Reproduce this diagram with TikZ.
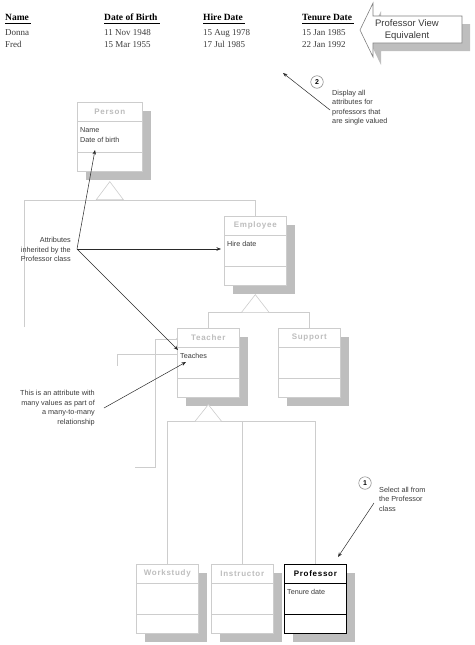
\documentclass[tikz,border=0pt]{standalone}
\usepackage{fontspec}
\setmainfont{Liberation Sans}
\newfontfamily\tablefont{Liberation Serif}
\newfontfamily\classfont[LetterSpace=9]{Liberation Sans}
\usepackage{tikz}
\usetikzlibrary{arrows.meta, shadows, calc, positioning}
\definecolor{lightline}{HTML}{CDCDCD}
\definecolor{lighttext}{HTML}{BDBDBD}
\definecolor{shadowgray}{HTML}{BEBEBE}
\definecolor{darktext}{HTML}{3A3A3A}
\definecolor{notecolor}{HTML}{2A2A2A}
\tikzstyle{classbox} = [draw=lightline, fill=white, line width=0.6pt, anchor=north west, minimum width=62pt, minimum height=69pt, inner sep=0pt, drop shadow={shadow xshift=9pt, shadow yshift=-9pt, fill=shadowgray, opacity=1}]
\tikzstyle{classname} = [anchor=north, minimum height=19pt, inner sep=0pt, text=lighttext, font=\classfont\bfseries\fontsize{8}{9}\selectfont]
\tikzstyle{classattr} = [anchor=north west, align=left, inner xsep=3pt, inner ysep=5.5pt, text=darktext, font=\fontsize{7.2}{10.5}\selectfont]
\tikzstyle{classline} = [draw=lightline, line width=0.6pt]
\tikzstyle{genline} = [draw=lightline, line width=0.6pt]
\tikzstyle{note} = [inner sep=0pt, text=darktext, font=\fontsize{7.3}{9.5}\selectfont]
\tikzstyle{pointer} = [draw=notecolor, line width=0.5pt, -{Stealth[length=4.5pt, width=3.5pt]}]
\tikzstyle{stepmark} = [circle, draw=gray, line width=0.5pt, minimum size=12.5pt, inner sep=0pt, font=\bfseries\fontsize{7}{8}\selectfont]
\tikzstyle{headcell} = [anchor=base west, inner sep=0pt, font=\tablefont\bfseries\fontsize{9.5}{11}\selectfont]
\tikzstyle{rowcell} = [anchor=base west, inner sep=0pt, text=darktext, font=\tablefont\fontsize{9}{11}\selectfont]

\begin{document}
\begin{tikzpicture}[x=1pt, y=-1pt]
	\useasboundingbox (0,0) rectangle (474,645);

	% table of professors
	\node (NameHead) [headcell] at (5, 20) {Name};
	\node (BirthHead) [headcell] at (104, 20) {Date of Birth};
	\node (HireHead) [headcell] at (203, 20) {Hire Date};
	\node (TenureHead) [headcell] at (302, 20) {Tenure Date};
	\foreach \h in {NameHead, BirthHead, HireHead, TenureHead}
		\draw [line width=0.6pt] ([yshift=-2.8pt]\h.base west) -- ([yshift=-2.8pt, xshift=2pt]\h.base east);

	\node (Donna) [rowcell] at (5, 35) {Donna};
	\node (DonnaBirth) [rowcell] at (104, 35) {11 Nov 1948};
	\node (DonnaHire) [rowcell] at (203, 35) {15 Aug 1978};
	\node (DonnaTenure) [rowcell] at (302, 35) {15 Jan 1985};
	\node (Fred) [rowcell] at (5, 47) {Fred};
	\node (FredBirth) [rowcell] at (104, 47) {15 Mar 1955};
	\node (FredHire) [rowcell] at (203, 47) {17 Jul 1985};
	\node (FredTenure) [rowcell] at (302, 47) {22 Jan 1992};

	% block arrow
	\fill [shadowgray, shift={(8,8)}] (360,30) -- (373,3) -- (373,16) -- (462,16) -- (462,43) -- (373,43) -- (373,57) -- cycle;
	\draw [draw=gray, fill=white, line width=0.6pt] (360,30) -- (373,3) -- (373,16) -- (462,16) -- (462,43) -- (373,43) -- (373,57) -- cycle;
	\node (ViewLabel) [align=center, text=darktext, font=\fontsize{9.5}{12}\selectfont] at (407, 30) {Professor View\\Equivalent};

	% classes
	\node (Person) [classbox, minimum width=65pt] at (77, 102) {};
	\node (PersonName) [classname] at (Person.north) {Person};
	\node (PersonAttr) [classattr] at (PersonName.south -| Person.west) {Name\\Date of birth};
	\draw [classline] (PersonName.south -| Person.west) -- (PersonName.south -| Person.east);
	\draw [classline] ([yshift=19pt]Person.south west) -- ([yshift=19pt]Person.south east);

	\node (Employee) [classbox] at (224, 216) {};
	\node (EmployeeName) [classname] at (Employee.north) {Employee};
	\node (EmployeeAttr) [classattr] at (EmployeeName.south -| Employee.west) {Hire date};
	\draw [classline] (EmployeeName.south -| Employee.west) -- (EmployeeName.south -| Employee.east);
	\draw [classline] ([yshift=19pt]Employee.south west) -- ([yshift=19pt]Employee.south east);

	\node (Teacher) [classbox] at (177, 328) {};
	\node (TeacherName) [classname] at (Teacher.north) {Teacher};
	\node (TeacherAttr) [classattr] at (TeacherName.south -| Teacher.west) {Teaches};
	\draw [classline] (TeacherName.south -| Teacher.west) -- (TeacherName.south -| Teacher.east);
	\draw [classline] ([yshift=19pt]Teacher.south west) -- ([yshift=19pt]Teacher.south east);

	\node (Support) [classbox] at (278, 328) {};
	\node (SupportName) [classname] at (Support.north) {Support};
	\draw [classline] (SupportName.south -| Support.west) -- (SupportName.south -| Support.east);
	\draw [classline] ([yshift=19pt]Support.south west) -- ([yshift=19pt]Support.south east);

	\node (Workstudy) [classbox] at (136, 564) {};
	\node (WorkstudyName) [classname] at (Workstudy.north) {Workstudy};
	\draw [classline] (WorkstudyName.south -| Workstudy.west) -- (WorkstudyName.south -| Workstudy.east);
	\draw [classline] ([yshift=19pt]Workstudy.south west) -- ([yshift=19pt]Workstudy.south east);

	\node (Instructor) [classbox] at (211, 564) {};
	\node (InstructorName) [classname] at (Instructor.north) {Instructor};
	\draw [classline] (InstructorName.south -| Instructor.west) -- (InstructorName.south -| Instructor.east);
	\draw [classline] ([yshift=19pt]Instructor.south west) -- ([yshift=19pt]Instructor.south east);

	\node (Professor) [classbox, draw=black, line width=0.8pt] at (284, 564) {};
	\node (ProfessorName) [classname, text=black] at (Professor.north) {Professor};
	\node (ProfessorAttr) [classattr] at (ProfessorName.south -| Professor.west) {Tenure date};
	\draw [classline, draw=black, line width=0.8pt] (ProfessorName.south -| Professor.west) -- (ProfessorName.south -| Professor.east);
	\draw [classline, draw=black, line width=0.8pt] ([yshift=19pt]Professor.south west) -- ([yshift=19pt]Professor.south east);

	% generalisations
	\coordinate (PersonGen) at ($(Person.south)+(0,10)$);
	\coordinate (PersonGenBase) at ($(PersonGen)+(0,18)$);
	\coordinate (PersonBranch) at (24, 200);
	\coordinate (PersonBranchEnd) at (24, 327);
	\draw [genline] (PersonBranchEnd) -- (PersonBranch) -- (PersonBranch -| Employee.north) -- (Employee.north);
	\draw [genline, fill=white] (PersonGen) -- ++(-13.5,18) -- ++(27,0) -- cycle;

	\coordinate (EmployeeGen) at ($(Employee.south)+(0,9)$);
	\coordinate (EmployeeGenBase) at ($(EmployeeGen)+(0,18)$);
	\draw [genline] (Teacher.north) |- (EmployeeGenBase) -| (Support.north);
	\draw [genline, fill=white] (EmployeeGen) -- ++(-14,18) -- ++(28,0) -- cycle;

	\coordinate (TeacherGen) at ($(Teacher.south)+(0,7)$);
	\coordinate (TeacherGenBase) at ($(TeacherGen)+(0,17)$);
	\draw [genline] (Workstudy.north) |- (TeacherGenBase) -| (Professor.north);
	\draw [genline] (Instructor.north) -- (Instructor.north |- TeacherGenBase);
	\draw [genline, fill=white] (TeacherGen) -- ++(-13.5,17) -- ++(27,0) -- cycle;

	% association of teacher with itself
	\coordinate (SelfOut) at ([yshift=-11pt]Teacher.north west);
	\coordinate (SelfIn) at ([yshift=-26pt]Teacher.north west);
	\draw [genline] (SelfOut) -- ++(-22,0) -- ++(0,128) -- ++(-20,0);
	\draw [genline] (SelfIn) -- ++(-60,0) -- ++(0,12);
	\fill [lightline] (SelfOut) circle (1.2pt);

	% notes
	\node (InheritNote) [note, align=right, anchor=east] at (71, 249.5) {Attributes\\inherited by the\\Professor class};
	\coordinate (InheritFrom) at (77, 249);
	\coordinate (InheritPerson) at (95, 150);
	\coordinate (InheritEmployee) at (221, 249);
	\coordinate (InheritTeacher) at (178, 350);
	\draw [pointer] (InheritFrom) -- (InheritPerson);
	\draw [pointer] (InheritFrom) -- (InheritEmployee);
	\draw [pointer] (InheritFrom) -- (InheritTeacher);

	\node (ManyNote) [note, align=right, anchor=east] at (95, 408) {This is an attribute with\\many values as part of\\a many-to-many\\relationship};
	\coordinate (ManyFrom) at (104, 408);
	\coordinate (ManyTip) at (186, 362);
	\draw [pointer] (ManyFrom) -- (ManyTip);

	\node (StepTwo) [stepmark] at (317, 82) {2};
	\node (DisplayNote) [note, align=left, anchor=north west] at (332, 90) {Display all\\attributes for\\professors that\\are single valued};
	\coordinate (DisplayFrom) at (330, 110);
	\coordinate (DisplayTip) at (283, 73);
	\draw [pointer] (DisplayFrom) -- (DisplayTip);

	\node (StepOne) [stepmark] at (365, 483) {1};
	\node (SelectNote) [note, align=left, anchor=north west] at (379, 487) {Select all from\\the Professor\\class};
	\coordinate (SelectFrom) at (374, 503);
	\coordinate (SelectTip) at (338, 557);
	\draw [pointer] (SelectFrom) -- (SelectTip);

\end{tikzpicture}
\end{document}
